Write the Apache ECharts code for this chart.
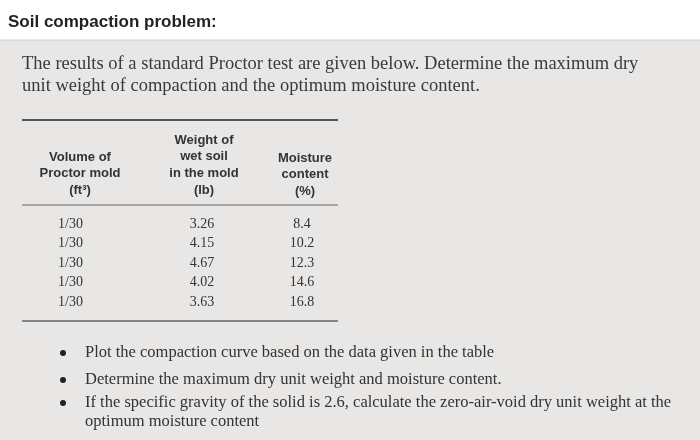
<!DOCTYPE html>
<html><head><meta charset="utf-8">
<script src="https://cdn.jsdelivr.net/npm/echarts@6/dist/echarts.min.js"></script>
<style>html,body{margin:0;padding:0;background:#fff}#c{width:700px;height:440px}</style>
</head><body><div id="c"></div>
<script>
const title = "Soil compaction problem:";
const paragraph = ["The results of a standard Proctor test are given below. Determine the maximum dry",
  "unit weight of compaction and the optimum moisture content."];
const headVolume = ["Volume of", "Proctor mold", "(ft³)"];
const headWeight = ["Weight of", "wet soil", "in the mold", "(lb)"];
const headMoisture = ["Moisture", "content", "(%)"];
const volume = ["1/30", "1/30", "1/30", "1/30", "1/30"];
const weight = ["3.26", "4.15", "4.67", "4.02", "3.63"];
const moisture = ["8.4", "10.2", "12.3", "14.6", "16.8"];
const bullets = ["Plot the compaction curve based on the data given in the table",
  "Determine the maximum dry unit weight and moisture content.",
  "If the specific gravity of the solid is 2.6, calculate the zero-air-void dry unit weight at the",
  "optimum moisture content"];
const bulletY = [353, 380, 403, 422];
const bulletDot = [true, true, true, false];

const serif = "'Liberation Serif','DejaVu Serif',serif";
const sans = "'Liberation Sans','DejaVu Sans',sans-serif";
const els = [];
els.push({type:'rect', shape:{x:0,y:40,width:700,height:400}, style:{fill:'#e9e7e5'}});
els.push({type:'rect', shape:{x:0,y:0,width:700,height:40}, style:{fill:'#ffffff'}});
els.push({type:'line', shape:{x1:0,y1:40,x2:700,y2:40}, style:{stroke:'#d0d0d0',lineWidth:1}});
els.push({type:'text', x:8, y:22, style:{text:title, font:"bold 17px "+sans, fill:'#222', verticalAlign:'middle'}});
paragraph.forEach((t,i)=>els.push({type:'text', x:22, y:64+i*22, style:{text:t, font:"18.5px "+serif, fill:'#3a3a3a', verticalAlign:'middle'}}));
els.push({type:'line', shape:{x1:22,y1:120,x2:338,y2:120}, style:{stroke:'#555',lineWidth:2}});
els.push({type:'line', shape:{x1:22,y1:205,x2:338,y2:205}, style:{stroke:'#666',lineWidth:1}});
els.push({type:'line', shape:{x1:22,y1:321,x2:338,y2:321}, style:{stroke:'#666',lineWidth:1.5}});
const hf = "bold 13px "+sans;
headVolume.forEach((t,i)=>els.push({type:'text', x:80, y:157+i*16.5, style:{text:t, font:hf, fill:'#333', align:'center', verticalAlign:'middle'}}));
headWeight.forEach((t,i)=>els.push({type:'text', x:204, y:140+i*16.8, style:{text:t, font:hf, fill:'#333', align:'center', verticalAlign:'middle'}}));
headMoisture.forEach((t,i)=>els.push({type:'text', x:305, y:158+i*16.8, style:{text:t, font:hf, fill:'#333', align:'center', verticalAlign:'middle'}}));
const df = "14px "+serif;
volume.forEach((t,i)=>{
  const y = 224+i*19.5;
  els.push({type:'text', x:58, y, style:{text:t, font:df, fill:'#333', verticalAlign:'middle'}});
  els.push({type:'text', x:202, y, style:{text:weight[i], font:df, fill:'#333', align:'center', verticalAlign:'middle'}});
  els.push({type:'text', x:302, y, style:{text:moisture[i], font:df, fill:'#333', align:'center', verticalAlign:'middle'}});
});
bullets.forEach((t,i)=>{
  if (bulletDot[i]) els.push({type:'circle', shape:{cx:63,cy:bulletY[i],r:3}, style:{fill:'#222'}});
  els.push({type:'text', x:85, y:bulletY[i], style:{text:t, font:"16.5px "+serif, fill:'#333', verticalAlign:'middle'}});
});
const chart = echarts.init(document.getElementById('c'));
chart.setOption({animation:false, graphic:{elements:els}});
</script></body></html>
